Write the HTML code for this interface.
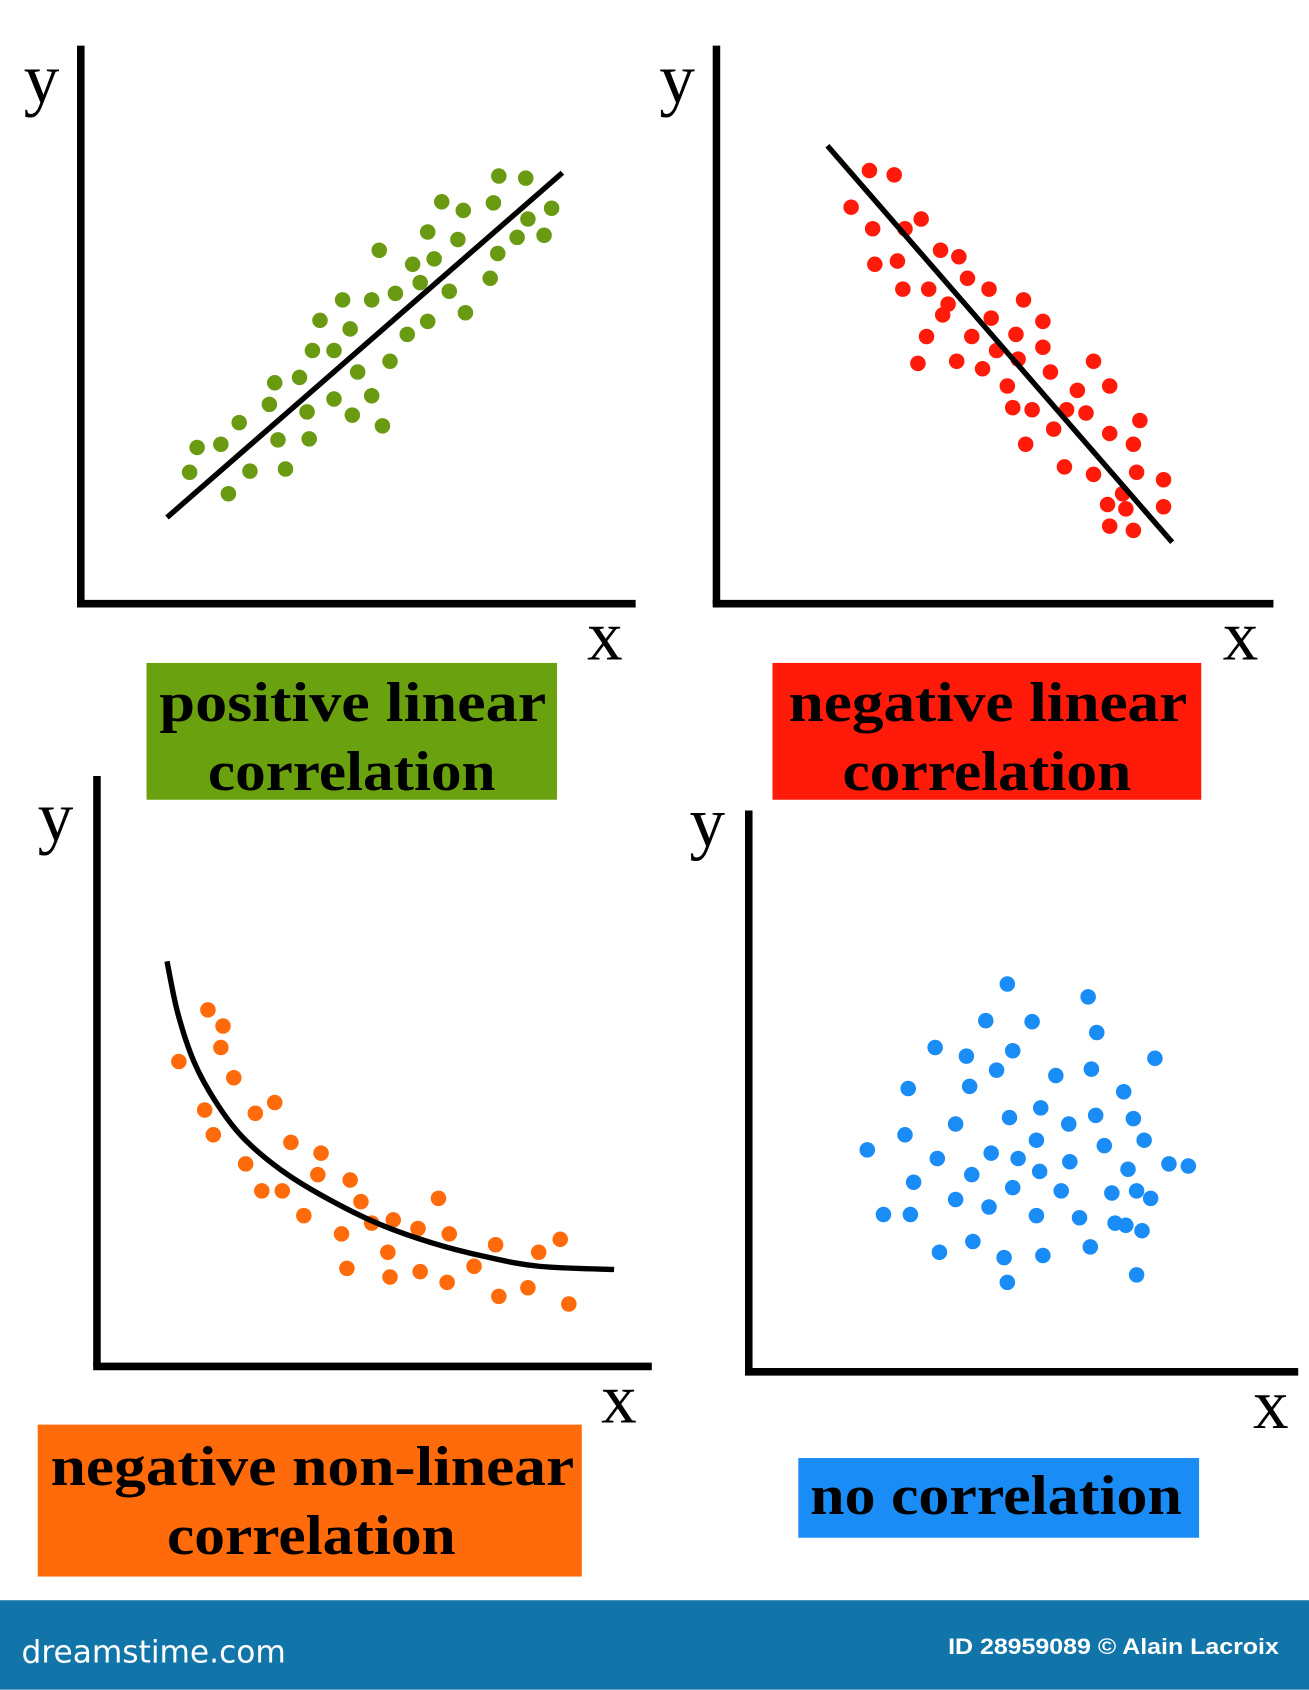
<!DOCTYPE html>
<html><head><meta charset="utf-8">
<style>
html,body{margin:0;padding:0;background:#fff;}
svg{display:block;}
.lbl{font-family:"Liberation Serif",serif;font-weight:bold;font-size:52px;fill:#000;}
.ax{font-family:"Liberation Serif",serif;font-size:66px;fill:#000;}
</style></head>
<body>
<svg id="chart" width="1309" height="1690" viewBox="0 0 1215 1568" xmlns="http://www.w3.org/2000/svg">
<rect width="1215" height="1568" fill="#fff"/>
<g id="plots"></g>
<g>
<rect x="136" y="615" width="381" height="127" fill="#6aa10f"/>
<text class="lbl" x="148" y="669" textLength="359" lengthAdjust="spacingAndGlyphs">positive linear</text>
<text class="lbl" x="193" y="733" textLength="267" lengthAdjust="spacingAndGlyphs">correlation</text></g>
<g>
<rect x="717" y="615" width="398" height="127" fill="#ff1a0a"/>
<text class="lbl" x="732" y="669" textLength="370" lengthAdjust="spacingAndGlyphs">negative linear</text>
<text class="lbl" x="782" y="733" textLength="268" lengthAdjust="spacingAndGlyphs">correlation</text></g>
<g>
<rect x="35" y="1322" width="505" height="141" fill="#ff6a0a"/>
<text class="lbl" x="47" y="1378" textLength="486" lengthAdjust="spacingAndGlyphs">negative non-linear</text>
<text class="lbl" x="155" y="1442" textLength="268" lengthAdjust="spacingAndGlyphs">correlation</text></g>
<g>
<rect x="741" y="1353" width="372" height="74" fill="#1a8cf5"/>
<text class="lbl" x="752" y="1405" textLength="345" lengthAdjust="spacingAndGlyphs">no correlation</text></g>
<g>
<rect x="0" y="1485" width="1215" height="83" fill="#1275aa"/>
<text x="20" y="1543" fill="#fff" font-family="DejaVu Sans,sans-serif" font-size="29">dreamstime.com</text>
<text x="880" y="1535" fill="#fff" font-family="Liberation Sans,sans-serif" font-weight="bold" font-size="21" textLength="307" lengthAdjust="spacingAndGlyphs">ID 28959089 © Alain Lacroix</text></g>
</svg>
<script>
// data in units of 10px from each panel origin
const p1x=[10.8,13,10.1,13.7,15.7,14.7,17.5,18.3,19,18,20.3,21.2,21,22.2,21.5,23.5,24.3,25,23.5,25.2,27,28,25.7,27,27.7,28.7,29.2,30.3,30.8,32.2,32.2,32.8,33.5,34.2,35,35.7,35.5,38,38.3,38.8,38.7,40.5,41.3,41.5,43,43.7,31.5];
const p1y=[14.5,14.8,12.2,10.2,12.3,16.8,18.5,15.2,12.5,20.5,21,15.3,17.8,26.3,23.5,23.5,28.2,25.5,19,17.5,19.3,16.5,21.5,28.2,32.8,22.5,28.8,25,31.5,26.2,34.5,32,37.3,29,33.8,27,36.5,30.2,37.2,39.7,32.5,34,39.5,35.7,34.2,36.7,29.8];
const p1line=[[8,8],[44.7,40]];
const p2x=[14.2,16.5,12.5,14.5,17.5,16.8,19,20.8,22.5,14.7,17.3,19.7,21.5,23.3,25.3,21,19.5,23.7,25.5,27.8,28.5,30.3,18.7,22.3,24.7,26,27,28,30.3,31,27.5,29.3,32.5,33.5,35,36.5,28.7,31.3,34.3,32.3,35,36.5,39.3,38.7,39,41.5,37.7,36.3,38,36.5,38.7,41.5];
const p2y=[40.2,39.8,36.8,34.8,34.8,31.8,35.7,32.8,32.2,31.5,29.2,29.2,27.8,30.2,29.2,26.8,24.8,24.8,26.5,25,28.2,26.2,22.3,22.5,21.8,23.5,20.2,22.7,23.8,21.5,18.2,18,18,19.8,22.5,20.2,14.8,16.2,17.7,12.7,12,15.8,17,14.8,12.2,11.5,10.2,9.2,8.8,7.2,6.8,9];
const p2line=[[10.3,42.5],[42.3,5.7]];
const p3x=[10.3,11.7,11.5,7.6,12.7,10,10.8,14.7,16.5,13.8,15.3,17.2,18,19.2,20.8,20.5,22.7,23.5,24.5,23.2,25.5,27,27.2,27.5,29.8,30,31.7,32.7,32.5,35,37,37.3,40,41,43,43.8];
const p3y=[33.1,31.6,29.6,28.3,26.8,23.8,21.5,23.5,24.5,18.8,16.3,16.3,20.8,14,19.8,17.8,12.3,17.3,15.3,9.1,13.3,10.6,8.3,13.6,12.8,8.8,15.6,12.3,7.8,9.3,11.3,6.5,7.3,10.6,11.8,5.8];
const p3curveX=[6.5,7.5,9,11,13.5,17,21,26,31,36,41,48];
const p3curveY=[37.6,32.8,28.3,24.6,21.3,18.3,15.8,13.3,11.5,10.2,9.3,9];
const p4x=[24,31.5,22,26.3,32.3,17.3,20.2,24.5,37.7,14.8,20.5,23,28.5,31.8,34.8,27.1,19.2,24.2,29.7,32.2,35.7,14.5,11,17.5,22.5,25,26.7,29.8,33,36.7,20.7,27,35.2,39,40.8,15.3,19.2,22.3,24.5,29,33.7,36,12.5,15,26.7,30.7,34,37.3,36.5,20.8,17.7,23.7,27.3,31.7,35,24,36];
const p4y=[36,34.8,32.6,32.5,31.5,30.1,29.3,29.8,29.1,26.3,26.5,28,27.5,28.1,26,24.5,23,23.6,23,23.8,23.5,22,20.6,19.8,20.3,19.8,21.5,19.5,21,21.5,18.3,18.6,18.8,19.3,19.1,17.6,16,15.3,17.1,16.8,16.6,16.8,14.6,14.6,14.5,14.3,13.8,16.1,13.1,12.1,11.1,10.6,10.8,11.6,13.6,8.3,9];

const NS="http://www.w3.org/2000/svg";
const plots=document.getElementById('plots');
function mk(tag,attrs,parent){const e=document.createElementNS(NS,tag);for(const k in attrs)e.setAttribute(k,attrs[k]);parent.appendChild(e);return e;}
const panels=[
 {name:'positive-linear',ox:75,oy:560,top:42,right:590,xs:p1x,ys:p1y,col:'#6a9a12',line:p1line,lx:[22,95],xl:[545,612]},
 {name:'negative-linear',ox:665,oy:560,top:42,right:1182,xs:p2x,ys:p2y,col:'#ff1a0a',line:p2line,lx:[612,95],xl:[1135,612]},
 {name:'negative-nonlinear',ox:90,oy:1268,top:720,right:605,xs:p3x,ys:p3y,col:'#ff6a0a',curve:[p3curveX,p3curveY],lx:[35,780],xl:[558,1320]},
 {name:'no-correlation',ox:695,oy:1273,top:752,right:1205,xs:p4x,ys:p4y,col:'#1a8cf5',lx:[640,785],xl:[1163,1325]}
];
panels.forEach(p=>{
 const sx=v=>p.ox+v*10, sy=v=>p.oy-v*10;
 const g=mk('g',{},plots);
 
 
 const ya=mk('line',{x1:p.ox,y1:p.top,x2:p.ox,y2:p.oy,stroke:'#000','stroke-width':7},g);
 
 
 const xa=mk('line',{x1:p.ox-3.5,y1:p.oy,x2:p.right,y2:p.oy,stroke:'#000','stroke-width':7},g);
 
 
 const yt=mk('text',{x:p.lx[0],y:p.lx[1],class:'ax'},g);yt.textContent='y';
 
 
 const xt=mk('text',{x:p.xl[0],y:p.xl[1],class:'ax'},g);xt.textContent='x';
 
 
 p.xs.forEach((v,i)=>{
  const c=mk('circle',{cx:sx(v),cy:sy(p.ys[i]),r:7.2,fill:p.col},g);
  
  
 });
 if(p.line){
  const l=mk('line',{x1:sx(p.line[0][0]),y1:sy(p.line[0][1]),x2:sx(p.line[1][0]),y2:sy(p.line[1][1]),stroke:'#000','stroke-width':5},g);
  
  
 }
 if(p.curve){
  const P=p.curve[0].map((v,i)=>[sx(v),sy(p.curve[1][i])]);
  let d='M'+P[0][0]+','+P[0][1];
  for(let i=0;i<P.length-1;i++){
   const p0=P[Math.max(0,i-1)],p1=P[i],p2=P[i+1],p3=P[Math.min(P.length-1,i+2)];
   d+=' C'+(p1[0]+(p2[0]-p0[0])/6)+','+(p1[1]+(p2[1]-p0[1])/6)+' '+(p2[0]-(p3[0]-p1[0])/6)+','+(p2[1]-(p3[1]-p1[1])/6)+' '+p2[0]+','+p2[1];
  }
  const c=mk('path',{d:d,fill:'none',stroke:'#000','stroke-width':5},g);
  
  
 }
});
</script>
</body></html>
